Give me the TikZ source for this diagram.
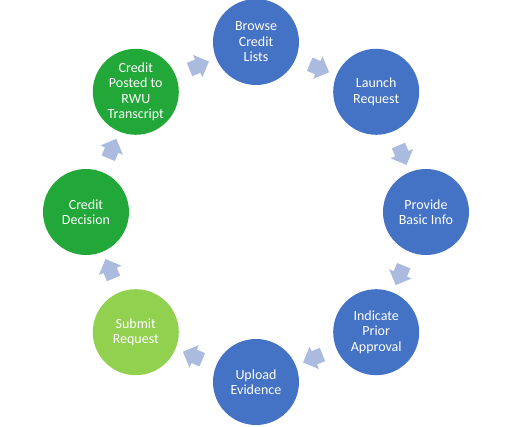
\documentclass[tikz,border=0pt]{standalone}
\usepackage{fontspec}
\setmainfont{Carlito}
\usetikzlibrary{shapes.arrows}
\definecolor{stepblue}{HTML}{4472C4}
\definecolor{stepgreen}{HTML}{21A838}
\definecolor{lightgreen}{HTML}{92D050}
\definecolor{flowgray}{HTML}{ABBBE0}
\begin{document}
\begin{tikzpicture}[
    stage/.style={circle,minimum size=86pt,inner sep=0pt,text=white,align=center,
                  font=\fontsize{14}{15.5}\selectfont},
    flow/.style={single arrow,fill=flowgray,minimum height=21pt,inner xsep=0pt,
                 inner ysep=7pt,single arrow head extend=5pt,sloped,allow upside down}]
        \useasboundingbox (-256pt,-215pt) rectangle (256pt,212pt);
        % --- stages of the request ---
        \node[stage,fill=stepblue]   (browse)   at (90:170pt)   {Browse\\Credit\\Lists};
        \node[stage,fill=stepblue]   (launch)   at (45:170pt)   {Launch\\Request};
        \node[stage,fill=stepblue]   (basic)    at (0:170pt)    {Provide\\Basic Info};
        \node[stage,fill=stepblue]   (prior)    at (-45:170pt)  {Indicate\\Prior\\Approval};
        \node[stage,fill=stepblue]   (upload)   at (-90:170pt)  {Upload\\Evidence};
        \node[stage,fill=lightgreen] (submit)   at (-135:170pt) {Submit\\Request};
        \node[stage,fill=stepgreen]  (decision) at (180:170pt)  {Credit\\Decision};
        \node[stage,fill=stepgreen]  (posted)   at (135:170pt)  {Credit\\Posted to\\RWU\\Transcript};
        % --- block arrows between stages ---
        \foreach \a/\b in {browse/launch,launch/basic,basic/prior,prior/upload,
                           upload/submit,submit/decision,decision/posted,posted/browse}{
          \path (\a) -- node[flow] (to-\b) {} (\b);
        }
\end{tikzpicture}
\end{document}
